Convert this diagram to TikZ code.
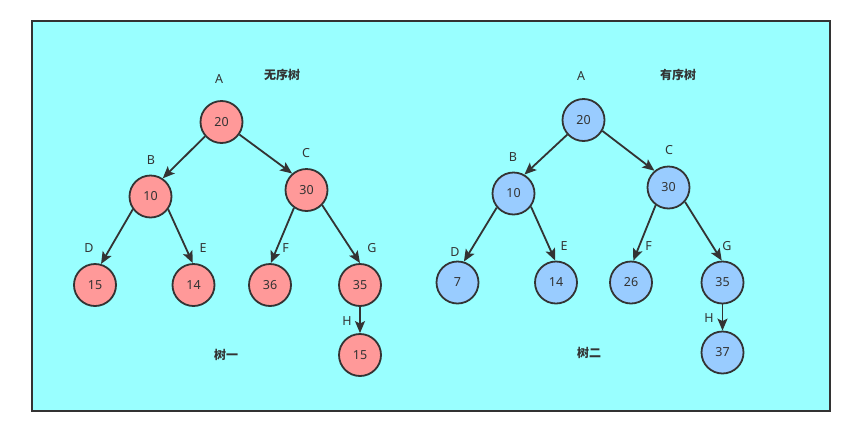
\documentclass[tikz,border=0pt]{standalone}
\usepackage{fontspec}
\setmainfont{Noto Sans}
\newfontfamily\cjk{Noto Sans CJK SC}
\usetikzlibrary{arrows.meta}
\definecolor{bgc}{HTML}{99FFFF}
\definecolor{redn}{HTML}{FF9999}
\definecolor{bluen}{HTML}{99CCFF}
\definecolor{linec}{HTML}{333333}
\begin{document}
\begin{tikzpicture}[x=1pt,y=-1pt,
  tnode/.style={circle,draw=linec,line width=1.8pt,minimum size=42pt,inner sep=0pt,font=\fontsize{12.5}{14}\selectfont,text=linec},
  rnode/.style={tnode,fill=redn},
  bnode/.style={tnode,fill=bluen},
  lbl/.style={font=\fontsize{12.5}{14}\selectfont,text=linec,inner sep=0pt},
  title/.style={font=\cjk\bfseries\fontsize{12}{14}\selectfont,text=linec,inner sep=0pt},
  edge/.style={draw=linec,line width=1.8pt,-{Stealth[length=12pt,width=10pt,inset=2.5pt]}}]
\useasboundingbox (0,0) rectangle (856,426);
\node[draw=linec,line width=2pt,fill=bgc,minimum width=797.5pt,minimum height=389.5pt,inner sep=0pt,anchor=north west] (frame) at (31,20) {};
% Tree 1
\node[rnode] (a1) at (221.5,122) {20};
\node[rnode] (b1) at (150.5,196.5) {10};
\node[rnode] (c1) at (306.5,190) {30};
\node[rnode] (d1) at (95,285) {15};
\node[rnode] (e1) at (193.5,285) {14};
\node[rnode] (f1) at (270,285) {36};
\node[rnode] (g1) at (360,285) {35};
\node[rnode] (h1) at (360,355) {15};
\draw[edge] (a1.221) -- (b1.56);
\draw[edge] (a1.325) -- (c1.131);
\draw[edge] (b1.216) -- (d1.74);
\draw[edge] (b1.324) -- (e1.92);
\draw[edge] (c1.235) -- (f1.88);
\draw[edge] (c1.316) -- (g1.90);
\draw[edge] (g1.270) -- (h1.90);
\node[lbl] (la1) at (219,79) {A};
\node[lbl] (lb1) at (151,160) {B};
\node[lbl] (lc1) at (306,153) {C};
\node[lbl] (ld1) at (89,248) {D};
\node[lbl] (le1) at (203,248) {E};
\node[lbl] (lf1) at (285.5,248) {F};
\node[lbl] (lg1) at (372,248) {G};
\node[lbl] (lh1) at (347,321) {H};
\node[title] (t1) at (282,75) {无序树};
\node[title] (s1) at (226,355) {树一};
% Tree 2
\node[bnode] (a2) at (583.5,120) {20};
\node[bnode] (b2) at (513.5,193.5) {10};
\node[bnode] (c2) at (668.5,187.5) {30};
\node[bnode] (d2) at (457.5,282.5) {7};
\node[bnode] (e2) at (556,282.5) {14};
\node[bnode] (f2) at (631,282.5) {26};
\node[bnode] (g2) at (722.5,282.5) {35};
\node[bnode] (h2) at (722.5,352.5) {37};
\draw[edge] (a2.222) -- (b2.60);
\draw[edge] (a2.330) -- (c2.130);
\draw[edge] (b2.220) -- (d2.73);
\draw[edge] (b2.323) -- (e2.92);
\draw[edge] (c2.234) -- (f2.84);
\draw[edge] (c2.319) -- (g2.92);
\draw[edge] (g2.270) -- (h2.90);
\node[lbl] (la2) at (581,76) {A};
\node[lbl] (lb2) at (513,157) {B};
\node[lbl] (lc2) at (669,150) {C};
\node[lbl] (ld2) at (455,252) {D};
\node[lbl] (le2) at (564,246) {E};
\node[lbl] (lf2) at (648.5,246) {F};
\node[lbl] (lg2) at (727,246) {G};
\node[lbl] (lh2) at (709,318) {H};
\node[title] (t2) at (678,75) {有序树};
\node[title] (s2) at (589,353) {树二};
\end{tikzpicture}
\end{document}
